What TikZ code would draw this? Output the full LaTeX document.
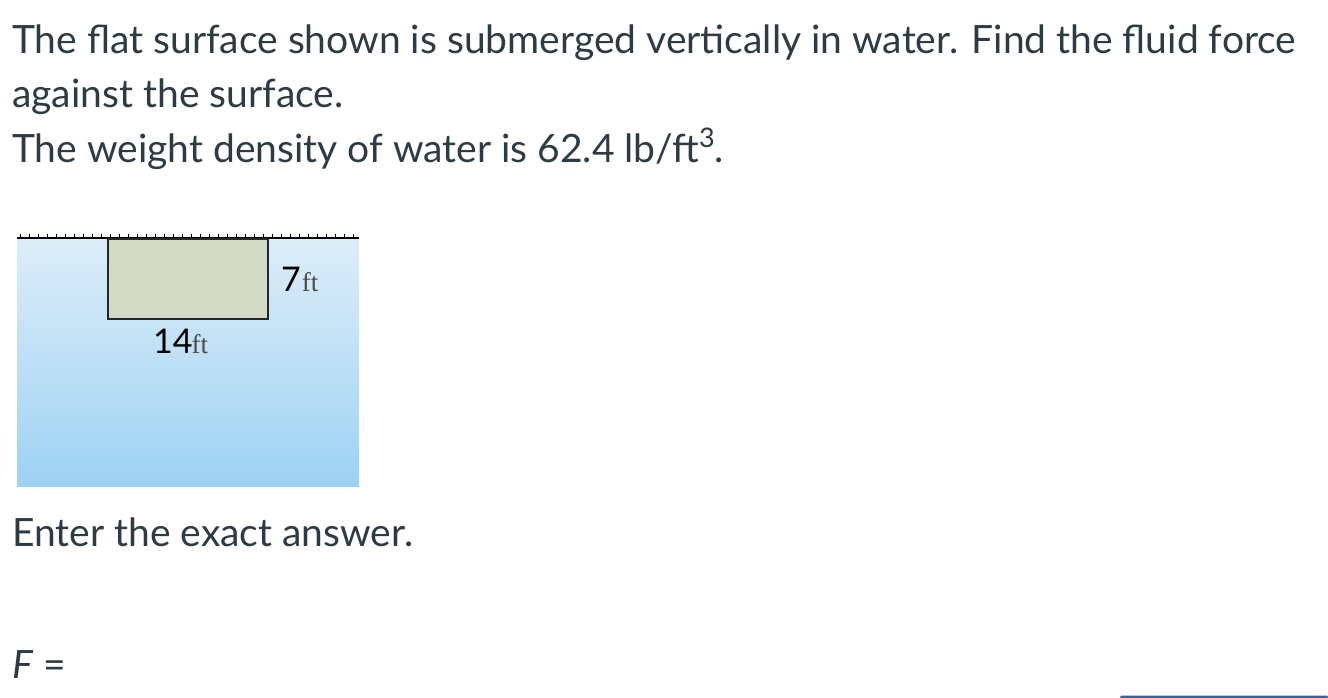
\documentclass[tikz,border=0pt]{standalone}
\usepackage{fontspec}
\setmainfont{Lato}
\newfontfamily\serifft{Liberation Serif}
\definecolor{txt}{HTML}{2D3B45}
\definecolor{wtop}{HTML}{DDEDF8}
\definecolor{wbot}{HTML}{9DD2F3}
\definecolor{plate}{HTML}{D3DBC6}
\definecolor{btn}{HTML}{3E5E9C}
\tikzset{
  para/.style={anchor=base west, inner sep=0pt, text=txt, font=\fontsize{39}{46}\selectfont},
  dimlabel/.style={anchor=base west, inner sep=0pt, text=black},
}
\newcommand{\ftunit}{{\serifft\fontsize{27}{27}\selectfont\color{black!70}ft}}
\begin{document}
\begin{tikzpicture}[x=1pt,y=-1pt]
\useasboundingbox (0,0) rectangle (1328,698);
\fill[white] (0,0) rectangle (1328,698);
\node[para] (l1) at (12,54) {The flat surface shown is submerged vertically in water. Find the fluid force};
\node[para] (l2) at (12,108) {against the surface.};
\node[para] (l3) at (12,163) {The weight density of water is 62.4 lb/ft\raisebox{15pt}{\fontsize{27}{27}\selectfont 3}.};
% water
\shade[top color=wtop, bottom color=wbot] (17,238) rectangle (359,486);
% surface line with ticks
\draw[black, line width=1.4pt] (17,238) -- (359,238);
\foreach \x in {20,29,...,356} {
  \draw[black, line width=0.8pt] (\x,238) -- (\x,234);
}
% plate
\draw[fill=plate, draw=black!85, line width=1.3pt] (108,239) rectangle (268,319);
\node[dimlabel] (h) at (281,291) {{\fontsize{34}{34}\selectfont 7}\kern1pt\ftunit};
\node[dimlabel] (w) at (153,353) {{\fontsize{34}{34}\selectfont 14}\kern-1pt\ftunit};
\node[para] (l4) at (12,546) {Enter the exact answer.};
\node[para] (l5) at (12,678) {\textit{F} =};
\fill[btn, rounded corners=1.5pt] (1120,695.5) rectangle (1328,700);
\end{tikzpicture}
\end{document}
